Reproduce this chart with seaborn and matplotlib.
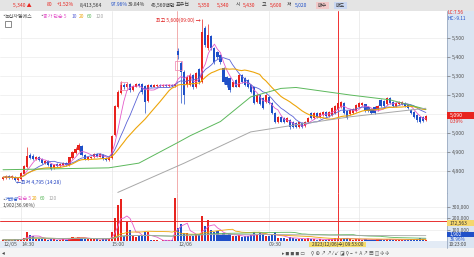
import numpy as np
import pandas as pd
import matplotlib
matplotlib.use("Agg")
import matplotlib.pyplot as plt
import seaborn as sns
from matplotlib.patches import Rectangle

sns.set_theme(style="white")
plt.rcParams["font.family"] = ["Noto Sans CJK KR", "DejaVu Sans"]

# ---------------- data (1-minute candles, 12/05 14:24 -> 12/06 10:22) ----------------
opens = [4755, 4760, 4770, 4760, 4765, 4750, 4755, 4785, 4820, 4885,
         4880, 4860, 4875, 4860, 4840, 4850, 4835, 4815, 4835, 4825,
         4830, 4840, 4830, 4865, 4895, 4910, 4930, 4885, 4860, 4865,
         4870, 4890, 4875, 4885, 4865, 4855, 4865, 4990, 5135, 5210,
         5255, 5240, 5260, 5225, 5245, 5260, 5260, 5250, 5170, 5255,
         5245, 5250, 5255, 5250, 5255, 5250, 5255, 5250, 5435, 5370,
         5320, 5255, 5255, 5305, 5240, 5340, 5270, 5555, 5450, 5510,
         5450, 5430, 5410, 5345, 5295, 5290, 5245, 5280, 5245, 5305,
         5290, 5280, 5255, 5240, 5165, 5200, 5185, 5165, 5190, 5160,
         5105, 5055, 5085, 5080, 5060, 5070, 5060, 5050, 5030, 5050,
         5035, 5055, 5105, 5080, 5105, 5085, 5095, 5110, 5090, 5095,
         5105, 5120, 5135, 5160, 5115, 5100, 5105, 5115, 5135, 5145,
         5150, 5135, 5125, 5135, 5120, 5175, 5170, 5150, 5185, 5165,
         5140, 5150, 5150, 5160, 5145, 5120, 5110, 5095, 5085, 5085,
         5070]
closes = [4765, 4770, 4760, 4770, 4750, 4760, 4790, 4825, 4880, 4865,
          4860, 4875, 4855, 4840, 4850, 4830, 4810, 4830, 4825, 4835,
          4840, 4830, 4870, 4900, 4915, 4935, 4885, 4860, 4870, 4875,
          4890, 4875, 4890, 4860, 4855, 4870, 4985, 5140, 5215, 5255,
          5240, 5260, 5225, 5250, 5260, 5250, 5215, 5165, 5255, 5245,
          5255, 5255, 5250, 5255, 5250, 5255, 5250, 5260, 5410, 5320,
          5200, 5295, 5305, 5240, 5315, 5270, 5535, 5465, 5520, 5450,
          5375, 5400, 5375, 5270, 5255, 5225, 5270, 5245, 5305, 5270,
          5255, 5240, 5215, 5160, 5200, 5150, 5130, 5200, 5160, 5105,
          5060, 5085, 5060, 5055, 5080, 5030, 5030, 5030, 5055, 5030,
          5060, 5080, 5080, 5105, 5085, 5105, 5110, 5090, 5110, 5130,
          5140, 5160, 5165, 5105, 5080, 5120, 5125, 5145, 5160, 5160,
          5115, 5115, 5105, 5105, 5140, 5140, 5140, 5185, 5160, 5140,
          5160, 5165, 5165, 5140, 5130, 5105, 5085, 5070, 5060, 5065,
          5090]
highs = [4770, 4775, 4775, 4775, 4770, 4765, 4795, 4830, 4925, 4895,
         4890, 4880, 4880, 4865, 4855, 4855, 4840, 4835, 4840, 4840,
         4845, 4845, 4875, 4905, 4925, 4945, 4935, 4890, 4875, 4880,
         4895, 4895, 4895, 4890, 4870, 4875, 4990, 5145, 5225, 5275,
         5265, 5270, 5265, 5255, 5265, 5265, 5265, 5255, 5260, 5260,
         5260, 5260, 5260, 5260, 5260, 5260, 5260, 5265, 5450, 5380,
         5330, 5305, 5315, 5310, 5320, 5345, 5600, 5565, 5575, 5520,
         5455, 5435, 5415, 5350, 5300, 5295, 5275, 5285, 5310, 5310,
         5295, 5285, 5260, 5245, 5205, 5205, 5190, 5205, 5195, 5165,
         5110, 5090, 5090, 5085, 5085, 5075, 5065, 5055, 5060, 5055,
         5065, 5085, 5110, 5110, 5110, 5110, 5115, 5115, 5115, 5135,
         5145, 5165, 5170, 5165, 5120, 5125, 5130, 5150, 5165, 5165,
         5155, 5140, 5130, 5140, 5145, 5180, 5175, 5190, 5190, 5170,
         5165, 5170, 5170, 5165, 5150, 5125, 5115, 5100, 5090, 5090,
         5095]
lows = [4750, 4755, 4755, 4755, 4745, 4745, 4750, 4780, 4815, 4860,
        4855, 4855, 4850, 4835, 4835, 4825, 4805, 4810, 4820, 4820,
        4825, 4825, 4825, 4860, 4890, 4905, 4880, 4855, 4855, 4860,
        4865, 4870, 4870, 4855, 4850, 4850, 4860, 4985, 5130, 5205,
        5230, 5235, 5215, 5220, 5240, 5245, 5205, 5105, 5165, 5240,
        5240, 5245, 5245, 5245, 5245, 5245, 5245, 5245, 5390, 5160,
        5150, 5240, 5250, 5230, 5235, 5260, 5265, 5455, 5440, 5440,
        5365, 5390, 5365, 5260, 5245, 5215, 5240, 5240, 5240, 5265,
        5250, 5235, 5210, 5150, 5160, 5145, 5125, 5160, 5155, 5100,
        5050, 5050, 5055, 5050, 5055, 5020, 5025, 5025, 5025, 5025,
        5030, 5050, 5075, 5075, 5080, 5080, 5090, 5085, 5085, 5090,
        5100, 5115, 5130, 5100, 5075, 5095, 5100, 5110, 5130, 5140,
        5110, 5110, 5100, 5100, 5115, 5135, 5135, 5145, 5155, 5135,
        5135, 5145, 5145, 5135, 5125, 5100, 5080, 5060, 5050, 5055,
        5065]
volumes = [12000, 8000, 10000, 6000, 18000, 15000, 20000, 25000, 75000, 55000,
           45000, 20000, 18000, 15000, 22000, 12000, 25000, 15000, 10000, 12000,
           18000, 10000, 30000, 35000, 30000, 38000, 25000, 20000, 15000, 18000,
           22000, 15000, 12000, 20000, 15000, 20000, 80000, 200000, 315000, 365000,
           45000, 170000, 100000, 40000, 35000, 40000, 45000, 75000, 75000, 8000,
           5000, 6000, 4000, 7000, 5000, 6000, 9000, 375000, 115000, 150000,
           70000, 70000, 45000, 45000, 60000, 50000, 220000, 130000, 185000, 100000,
           75000, 85000, 50000, 70000, 55000, 60000, 40000, 45000, 50000, 35000,
           40000, 45000, 55000, 80000, 50000, 70000, 65000, 40000, 45000, 60000,
           75000, 30000, 25000, 30000, 20000, 35000, 25000, 20000, 18000, 15000,
           20000, 25000, 18000, 15000, 12000, 15000, 12000, 10000, 14000, 20000,
           22000, 25000, 20000, 28000, 22000, 15000, 12000, 18000, 20000, 12000,
           18000, 10000, 12000, 10000, 14000, 16000, 12000, 18000, 14000, 10000,
           12000, 10000, 12000, 10000, 12000, 15000, 18000, 20000, 22000, 15000,
           8000]

# long moving averages (they depend on earlier history)
ma60_idx = [0, 35, 45, 58, 62, 72, 82, 92, 97, 115, 128, 140]
ma60_val = [4805, 4815, 4840, 4950, 4985, 5060, 5190, 5235, 5240, 5200, 5175, 5125]
ma120_idx = [38, 60, 82, 98, 115, 140]
ma120_val = [4685, 4840, 5005, 5045, 5085, 5130]

time_ticks = [0, 6, 36, 58, 88]
time_labels = ["12/05", "14:30", "15:00", "12/06", "09:30"]
grid_ticks = [6, 36, 88, 118]
price_grid = [4800, 4900, 5000, 5100, 5200, 5300, 5400, 5500]
price_ticks = [4800, 4900, 5000, 5200, 5300, 5400, 5500]   # 5,100 is hidden by the price box
vol_ticks = [100000, 200000, 300000]
vol_ref = 172563

UP, DN = "#e8231e", "#1f4fc8"
MA_COL = {"5": "#e45ccb", "10": "#5a63d6", "20": "#eda50a", "60": "#5cb85c", "120": "#a8a8a8"}

df = pd.DataFrame({"i": np.arange(len(closes)), "o": opens, "c": closes,
                   "h": highs, "l": lows, "v": volumes})
df["up"] = df["c"] >= df["o"]
df["col"] = np.where(df["up"], UP, DN)
for n in (5, 10, 20):
    df[f"ma{n}"] = df["c"].rolling(n, min_periods=1).mean()
for n in (5, 20, 60, 120):
    df[f"vma{n}"] = df["v"].rolling(n, min_periods=1).mean()

W, H = 474, 257
fig = plt.figure(figsize=(W / 100, H / 100), dpi=100)
fig.patch.set_facecolor("white")


def add_ax(x0, y0, x1, y1, **kw):
    return fig.add_axes([x0 / W, 1 - y1 / H, (x1 - x0) / W, (y1 - y0) / H], **kw)


# background / decoration layer in pixel coordinates
bg = add_ax(0, 0, W, H)
bg.set_xlim(0, W); bg.set_ylim(H, 0); bg.axis("off"); bg.set_zorder(-5)
bg.add_patch(Rectangle((0, 0), W, 10.5, color="#e4e4e4", lw=0))
bg.add_patch(Rectangle((447, 10.5), 27, 237, color="#dae5f2", lw=0))
bg.add_patch(Rectangle((0, 241), 447, 6.5, color="#e3ebf5", lw=0))
bg.add_patch(Rectangle((0, 247.5), W, 9.5, color="#f4f4f4", lw=0))
bg.plot([447, 447], [10.5, 247.5], color="#9aaac0", lw=0.6)

xlim = (-1.0, 147.0)
# ---------------- price panel ----------------
ax = add_ax(0, 10.5, 447, 193)
ax.set_facecolor("white")
ax.set_xlim(*xlim)
ax.set_ylim(4682, 5647)
for p in price_grid:
    ax.axhline(p, color="#ececec", lw=0.5, zorder=0)
for t in grid_ticks:
    ax.axvline(t, color="#e6e6e6", lw=0.5, zorder=0)
ax.axvline(57.5, color="#f0a0a0", lw=0.6, zorder=1)
ax.axvline(111, color="#f03030", lw=0.7, zorder=1)

ax.vlines(df["i"], df["l"], df["h"], colors=df["col"], lw=0.5, zorder=3)
body_lo = np.minimum(df["o"], df["c"])
body_h = np.maximum(np.abs(df["c"] - df["o"]), 3)
ax.bar(df["i"], body_h, bottom=body_lo, width=0.7, color=df["col"], lw=0, zorder=4)

sns.lineplot(x=df["i"], y=df["ma5"], ax=ax, color=MA_COL["5"], lw=0.6, zorder=5)
sns.lineplot(x=df["i"], y=df["ma10"], ax=ax, color=MA_COL["10"], lw=0.6, zorder=5)
sns.lineplot(x=df["i"], y=df["ma20"], ax=ax, color=MA_COL["20"], lw=0.8, zorder=5)
sns.lineplot(x=ma60_idx, y=ma60_val, ax=ax, color=MA_COL["60"], lw=0.7, zorder=5)
sns.lineplot(x=ma120_idx, y=ma120_val, ax=ax, color=MA_COL["120"], lw=0.7, zorder=5)

ax.yaxis.tick_right()
ax.set_yticks(price_ticks)
ax.set_yticklabels([f"{p:,}" for p in price_ticks])
ax.tick_params(axis="y", labelsize=3.8, length=2, pad=1.5, colors="#555555", width=0.4)
ax.set_xticks([])
ax.set_xlabel(""); ax.set_ylabel("")
for s in ax.spines.values():
    s.set_visible(False)
ax.spines["bottom"].set_visible(True)
ax.spines["bottom"].set_color("#9aaac0")
ax.spines["bottom"].set_linewidth(0.6)

# min / max annotations
ax.text(4.3, 4740, "←최저 4,795 (14:28)", color="#2040c0", fontsize=3.6, va="center", ha="left", zorder=6)
ax.text(65.6, 5595, "최고 5,600(09:00) →", color="#e02020", fontsize=3.6, va="center", ha="right", zorder=6)
ax.add_patch(Rectangle((38.6, 5225), 2.4, 45, fill=False, ec="#f080b0", lw=0.5, zorder=6))
ax.add_patch(Rectangle((56.8, 5335), 2.4, 45, fill=False, ec="#f080b0", lw=0.5, zorder=6))

# ---------------- volume panel ----------------
av = add_ax(0, 193, 447, 241)
av.set_facecolor("white")
av.set_xlim(*xlim)
av.set_ylim(0, 420000)
for v in vol_ticks:
    av.axhline(v, color="#ececec", lw=0.5, zorder=0)
for t in grid_ticks:
    av.axvline(t, color="#e6e6e6", lw=0.5, zorder=0)
av.axvline(57.5, color="#f0a0a0", lw=0.6, zorder=1)
av.axvline(111, color="#f03030", lw=0.7, zorder=1)
av.axhline(vol_ref, color="#e83030", lw=0.7, zorder=2)
av.bar(df["i"], df["v"], width=0.7, color=df["col"], lw=0, zorder=3)
sns.lineplot(x=df["i"], y=df["vma5"], ax=av, color=MA_COL["5"], lw=0.6, zorder=4)
sns.lineplot(x=df["i"], y=df["vma20"], ax=av, color=MA_COL["20"], lw=0.6, zorder=4)
sns.lineplot(x=df["i"], y=df["vma60"], ax=av, color=MA_COL["60"], lw=0.6, zorder=4)
sns.lineplot(x=df["i"], y=df["vma120"], ax=av, color=MA_COL["120"], lw=0.6, zorder=4)
av.yaxis.tick_right()
av.set_yticks(vol_ticks)
av.set_yticklabels([f"{v:,}" for v in vol_ticks])
av.tick_params(axis="y", labelsize=3.6, length=2, pad=1.5, colors="#555555", width=0.4)
av.set_xticks(time_ticks)
av.set_xticklabels(time_labels)
av.tick_params(axis="x", labelsize=3.8, length=5, pad=-4.5, colors="#555555", width=0.4, direction="out")
for lab in av.get_xticklabels():
    lab.set_horizontalalignment("left")
av.set_xlabel(""); av.set_ylabel("")
for s in av.spines.values():
    s.set_visible(False)

# ---------------- foreground texts (pixel coords) ----------------
fg = add_ax(0, 0, W, H)
fg.set_xlim(0, W); fg.set_ylim(H, 0); fg.axis("off"); fg.set_zorder(10)
fg.patch.set_alpha(0)


def T(x, y, s, c="#333333", fs=3.6, **kw):
    fg.text(x, y, s, color=c, fontsize=fs, va="center", ha=kw.pop("ha", "left"), **kw)


# header
T(13, 5, "5,340 ▲", UP)
T(47, 5, "80", UP)
T(57, 5, "+1.52%", UP)
T(80, 5, "8,413,564")
T(111, 5, "97.96%", DN)
T(128, 5, "39.84%")
T(151, 5, "45,560백만")
T(176, 5, "표우선")
T(198, 5, "5,350", UP)
T(217, 5, "5,340", UP)
T(236, 5, "시")
T(243, 5, "5,430", UP)
T(262, 5, "고")
T(270, 5, "5,600", UP)
T(287, 5, "저")
T(295, 5, "5,020", DN)
fg.add_patch(Rectangle((316, 1.5), 13, 7.5, color="#f2c9c9", lw=0))
fg.add_patch(Rectangle((334, 1.5), 13, 7.5, color="#c9d7f2", lw=0))
T(322.5, 5, "매수", "#333333", ha="center")
T(340.5, 5, "매도", "#333333", ha="center")

# price legend
T(1, 16, "▪", "#888888", 3.4)
T(5, 16, "녹십자엠에스", "#555555")
T(39, 16, "▪", "#888888", 3.4)
T(43, 16, "종가 단순 5", MA_COL["5"])
T(72, 16, "10", MA_COL["10"])
T(79, 16, "20", MA_COL["20"])
T(87, 16, "60", MA_COL["60"])
T(96, 16, "120", MA_COL["120"])
fg.add_patch(Rectangle((5, 21), 6, 5.5, fill=False, ec="#777777", lw=0.6))

T(448, 13, "LC:7.56", UP, 3.4)
T(448, 18, "HC:-9.11", DN, 3.4)

# current price box
fg.add_patch(Rectangle((447.5, 112), 26.5, 6.5, color="#e8231e", lw=0))
T(450, 115.2, "5,090", "white", 3.8)
T(450, 121.5, "0.39%", UP, 3.4)

# volume legend
T(1, 199, "▪", "#888888", 3.4)
T(5, 199, "거래량", DN)
T(18, 199, "단순 5", MA_COL["5"])
T(32, 199, "20", MA_COL["20"])
T(40, 199, "60", MA_COL["60"])
T(49, 199, "120", MA_COL["120"])
T(3, 205, "1,902(36.96%)", "#444444", 3.6)

# volume axis boxes
fg.add_patch(Rectangle((447.5, 220), 26.5, 6, color="#f5d76e", lw=0))
T(450, 223, "172,563", "#333333", 3.5)
fg.add_patch(Rectangle((447.5, 232), 26.5, 5, color="#2050c8", lw=0))
T(450, 234.5, "1,902", "white", 3.5)
T(450, 239.3, "36.96%", DN, 3.3)
T(449, 244.8, "10:23:00", "#444444", 3.4)

# crosshair time box
fg.add_patch(Rectangle((309, 241.5), 57, 5.5, color="#f3dc6c", lw=0))
T(337.5, 244.3, "2023/12/06(수) 09:53:00", "#333333", 3.4, ha="center")

# bottom toolbar
T(2, 252.5, "◂", "#444444", 4)
T(282, 252.5, "▸ ◼ ◼ ◼ ▭      ⚲ ⊕ ↗ ↗ ⁄ ↙ ◪ ⚲ −  +  A ↗ ▤ ◫ ✣ ✣", "#555555", 3.4)

fig.savefig("out.png", dpi=100, facecolor="white")
